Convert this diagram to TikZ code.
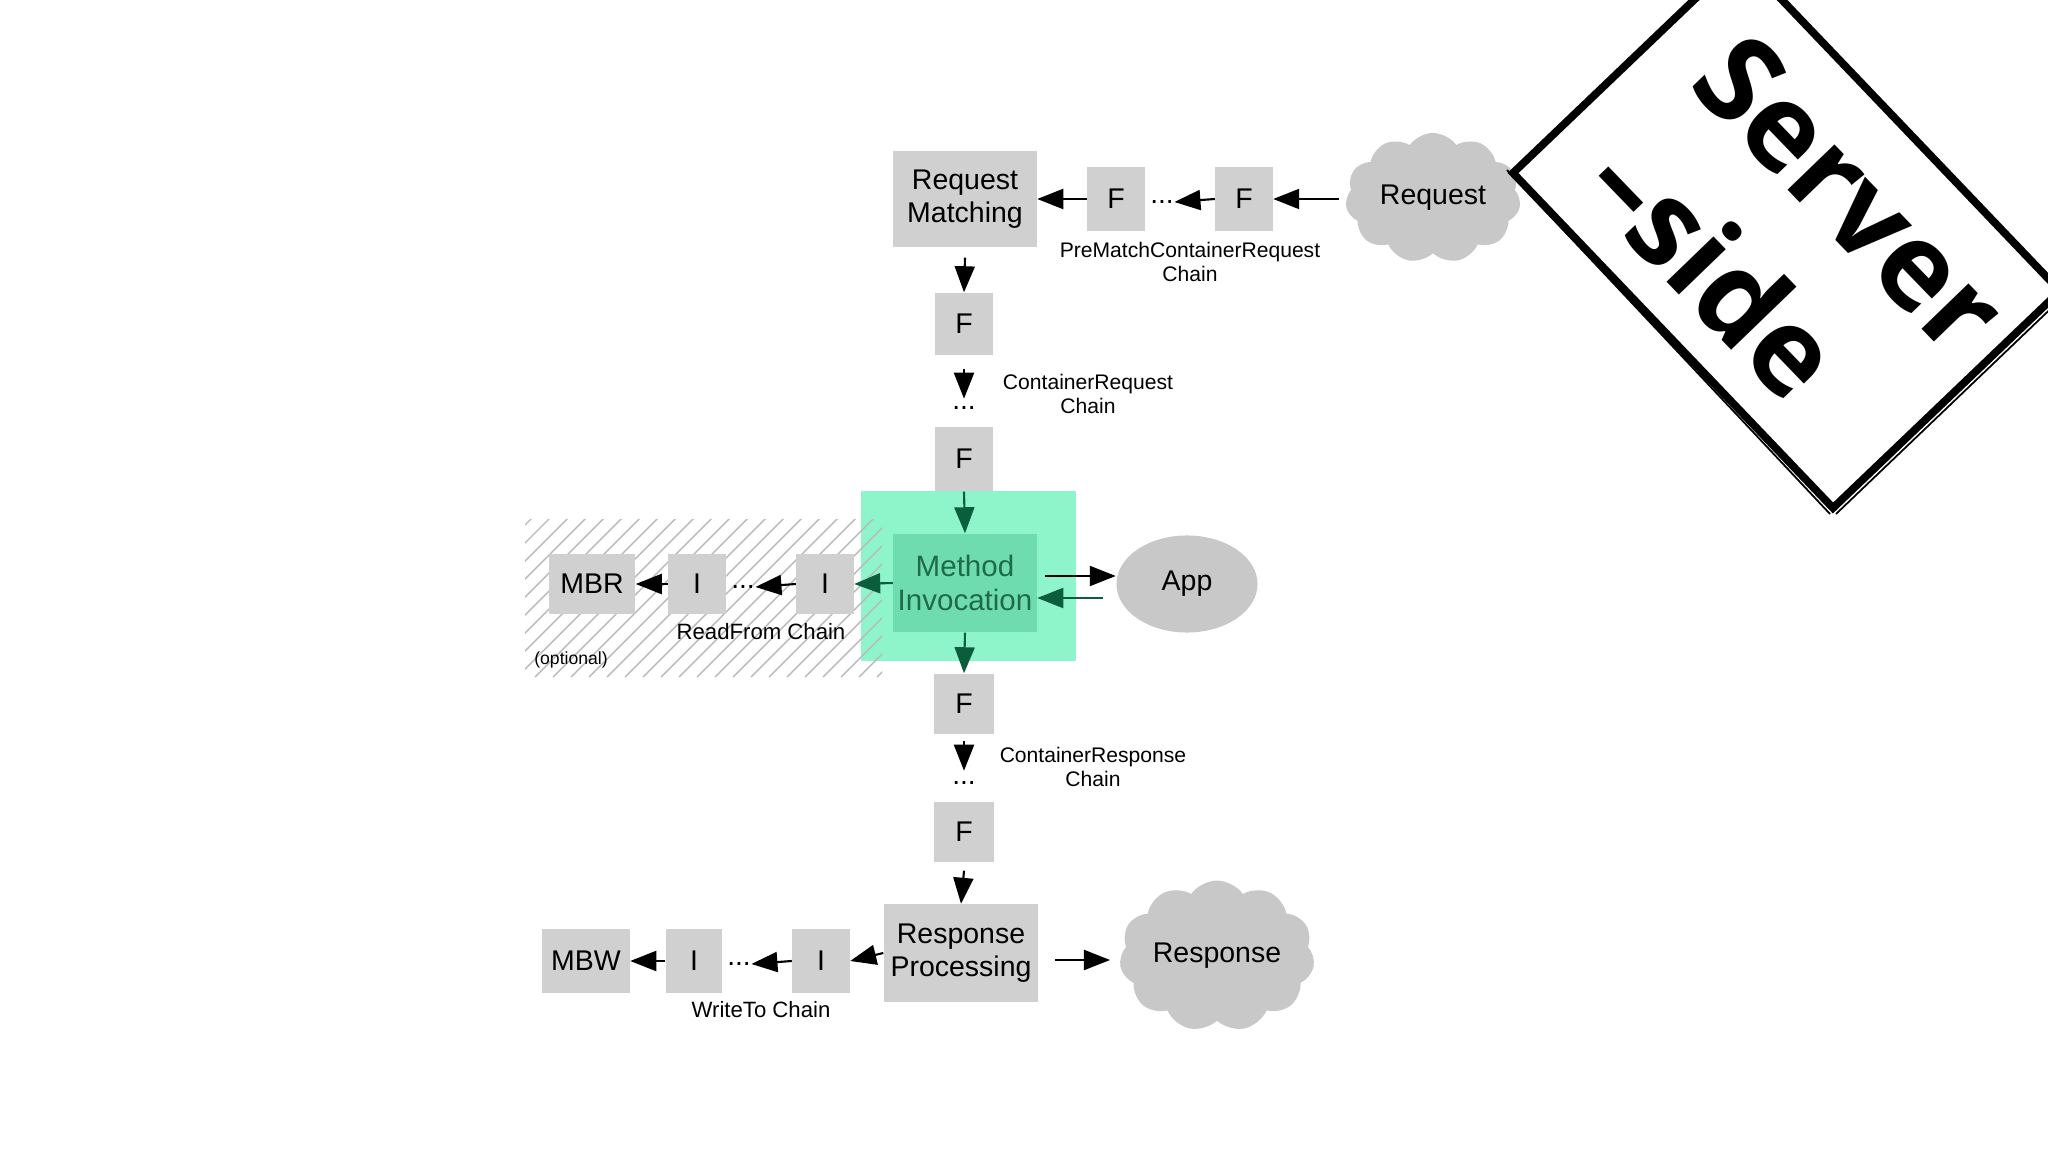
\documentclass[tikz,border=0pt]{standalone}
\usepackage{fontspec}
\setmainfont{Liberation Sans}
\newfontfamily\osb{Open Sans}
\usetikzlibrary{shapes.symbols,shapes.geometric,arrows.meta}
\definecolor{boxg}{HTML}{D0D0D0}
\definecolor{cloudg}{HTML}{C8C8C8}
\definecolor{greenbg}{HTML}{8EF5CB}
\definecolor{greenin}{HTML}{6FDCB0}
\definecolor{greentx}{HTML}{1E6B47}
\definecolor{greenar}{HTML}{0B5E3B}
\begin{document}
\begin{tikzpicture}[x=0.01cm,y=-0.01cm,
  box/.style={fill=boxg,draw=none,inner sep=0pt,align=center,font=\fontsize{8.1pt}{9.3pt}\selectfont},
  lbl/.style={align=center,font=\fontsize{6pt}{7pt}\selectfont},
  dots/.style={font=\fontsize{8pt}{9pt}\selectfont,inner sep=0pt},
  arr/.style={-{Triangle[length=0.26cm,width=0.2cm]},line width=0.6pt},
  garr/.style={arr,draw=greenar,color=greenar},
  cl/.style={cloud,cloud puffs=11,cloud puff arc=110,fill=cloudg,draw=none,aspect=1.4,inner sep=0pt,font=\fontsize{8.1pt}{9.3pt}\selectfont}]
\useasboundingbox (0,0) rectangle (2048,1152);
\fill[white] (0,0) rectangle (2048,1152);
% green region
\fill[greenbg] (861,491) rectangle (1076,661);
% hatch
\begin{scope}
\clip (525,520) rectangle (882,677);
\foreach \i in {0,18,...,560}{\draw[gray!55,line width=0.4pt] (525+\i-170,677) -- (525+\i,507);}
\end{scope}
% top row
\node[box,minimum width=1.43cm,minimum height=0.96cm] (rm) at (965,199) {Request\\Matching};
\node[box,minimum width=0.57cm,minimum height=0.64cm] (f1) at (1116,199) {F};
\node[dots] (d1) at (1162,202) {...};
\node[box,minimum width=0.57cm,minimum height=0.64cm] (f2) at (1244,199) {F};
\node[cl,minimum width=1.75cm,minimum height=1.3cm] (req) at (1433,198) {Request};
\node[lbl] (l1) at (1190,262) {PreMatchContainerRequest\\Chain};
\coordinate (rq) at (1339,199);
\draw[arr] (rq) -- (f2.east);
\draw[arr] (f2.west) -- (d1.east);
\draw[arr] (f1.west) -- (rm.east);
% column
\node[box,minimum width=0.57cm,minimum height=0.62cm] (f3) at (964,324) {F};
\node[dots] (d2) at (964,408) {...};
\node[box,minimum width=0.57cm,minimum height=0.64cm] (f4) at (964,459) {F};
\node[lbl] (l2) at (1088,394) {ContainerRequest\\Chain};
\draw[arr] (rm.south) ++(0,10) coordinate (a1) (a1) -- (f3.north);
\draw[arr] (f3.south) ++(0,13) coordinate (a2) (a2) -- ++(0,30);
\node[box,fill=greenin,text=greentx,minimum width=1.43cm,minimum height=0.98cm,font=\fontsize{8.4pt}{9.8pt}\selectfont] (mi) at (965,583) {Method\\Invocation};
\draw[garr] (f4.south) -- (mi.north);
\node[ellipse,fill=cloudg,minimum width=1.41cm,minimum height=0.97cm,inner sep=0pt,font=\fontsize{8.1pt}{9.3pt}\selectfont] (app) at (1187,584) {App};
\coordinate (mt) at (1045,576);
\coordinate (mb) at (1103,598);
\draw[arr] (mt) -- (mt -| app.west);
\draw[garr] (mb) -- (mb -| mi.east);
% read row
\node[box,minimum width=0.86cm,minimum height=0.59cm] (mbr) at (592,584) {MBR};
\node[box,minimum width=0.57cm,minimum height=0.59cm] (i1) at (697,584) {I};
\node[dots] (d3) at (743,587) {...};
\node[box,minimum width=0.57cm,minimum height=0.59cm] (i2) at (825,584) {I};
\draw[arr] (i1.west) -- (mbr.east);
\draw[arr] (i2.west) -- (d3.east);
\draw[garr] (mi.west) -- (i2.east);
\node[lbl,font=\fontsize{6.3pt}{7pt}\selectfont] (l3) at (761,632) {ReadFrom Chain};
\node[lbl,font=\fontsize{5pt}{6pt}\selectfont] (l4) at (571,660) {(optional)};
% lower column
\node[box,minimum width=0.59cm,minimum height=0.6cm] (f5) at (964,704) {F};
\node[dots] (d4) at (964,783) {...};
\node[box,minimum width=0.59cm,minimum height=0.6cm] (f6) at (964,832) {F};
\node[lbl] (l5) at (1093,767) {ContainerResponse\\Chain};
\draw[garr] (mi.south) -- (f5.north);
\draw[arr] (f5.south) ++(0,6) coordinate (a3) (a3) -- ++(0,30);
\node[box,minimum width=1.54cm,minimum height=0.97cm] (rp) at (961,953) {Response\\Processing};
\draw[arr] (f6.south) ++(0,8) coordinate (a4) (a4) -- (rp.north);
\node[cl,minimum width=1.95cm,minimum height=1.28cm] (resp) at (1217,956) {Response};
\coordinate (rpo) at (1055,960);
\draw[arr] (rpo) -- (1110,960);
% write row
\node[box,minimum width=0.87cm,minimum height=0.64cm] (mbw) at (586,961) {MBW};
\node[box,minimum width=0.56cm,minimum height=0.64cm] (i3) at (694,961) {I};
\node[dots] (d5) at (739,964) {...};
\node[box,minimum width=0.57cm,minimum height=0.64cm] (i4) at (821,961) {I};
\draw[arr] (i3.west) -- (mbw.east);
\draw[arr] (i4.west) -- (d5.east);
\draw[arr] (rp.west) -- (i4.east);
\node[lbl,font=\fontsize{6.3pt}{7pt}\selectfont] (l6) at (761,1010) {WriteTo Chain};
% server-side label
\draw[line width=2.2pt,line join=miter] (1513,173) -- (1833,508) -- (2060,291) -- (1740,-44) -- cycle;
\draw[line width=0.5pt] (1507,170) -- (1830,514) (1836,514) -- (2064,296);
\node[font=\osb\bfseries\fontsize{34pt}{43pt}\selectfont,align=left,inner sep=0pt,rotate=-46] (ss) at (1796,246) {Server\\–side};
\end{tikzpicture}
\end{document}
